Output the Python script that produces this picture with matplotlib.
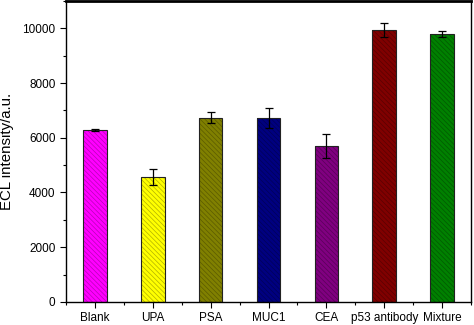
import numpy as np
import matplotlib.pyplot as plt
from matplotlib.ticker import MultipleLocator

plt.rcParams['font.family'] = ['Liberation Sans', 'DejaVu Sans']
plt.rcParams['hatch.linewidth'] = 0.5

labels = ['Blank', 'UPA', 'PSA', 'MUC1', 'CEA', 'p53 antibody', 'Mixture']
intensity = [6280, 4570, 6730, 6720, 5700, 9950, 9800]
errors = [50, 280, 200, 370, 440, 260, 110]
fills = ['#ff00ff', '#ffff00', '#808000', '#000080', '#800080', '#800000', '#008000']
hatches = ['#b800b8', '#b0b000', '#5a5a00', '#000058', '#580058', '#580000', '#005800']

fig = plt.figure(figsize=(4.74, 3.25), dpi=100)
ax = fig.add_axes([0.139, 0.071, 0.855, 0.926])

x = np.arange(1, len(labels) + 1)
for xi, v, f, h in zip(x, intensity, fills, hatches):
    ax.bar(xi, v, width=0.41, color=f, edgecolor=h, hatch='\\\\\\\\\\\\\\', linewidth=0)
ax.bar(x, intensity, width=0.41, fill=False, edgecolor='#222222', linewidth=0.8)
ax.errorbar(x, intensity, yerr=errors, fmt='none', ecolor='black',
            elinewidth=0.9, capsize=3, capthick=0.9)

ax.set_xlim(0.5, 7.5)
ax.set_ylim(0, 11000)
ax.set_xticks(x)
ax.set_xticklabels(labels, fontsize=8.5)
ax.xaxis.set_minor_locator(MultipleLocator(0.5))
ax.yaxis.set_major_locator(MultipleLocator(2000))
ax.yaxis.set_minor_locator(MultipleLocator(1000))
ax.tick_params(axis='y', labelsize=8.5)
ax.tick_params(which='major', direction='out', length=4, width=0.8)
ax.tick_params(which='minor', direction='out', length=2, width=0.8)
ax.set_ylabel('ECL intensity/a.u.', fontsize=10.8, labelpad=6)
for s in ax.spines.values():
    s.set_linewidth(1.0)
ax.spines['top'].set_linewidth(2.0)

fig.savefig('out.png', dpi=100)
